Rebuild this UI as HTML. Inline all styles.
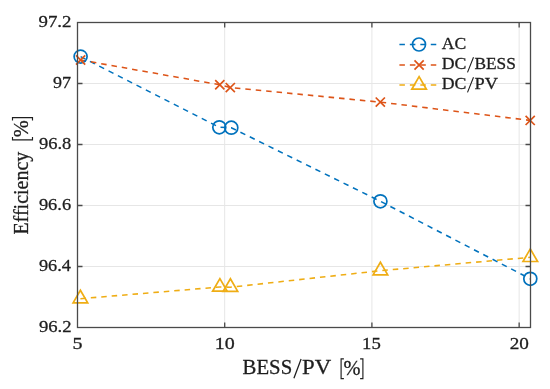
<!DOCTYPE html>
<html><head><meta charset="utf-8">
<style>
html,body{margin:0;padding:0;background:#fff;}
body{width:550px;height:389px;overflow:hidden;}
svg{display:block;will-change:transform;}
text{font-family:"Liberation Serif",serif;fill:#1e1e1e;stroke:#1e1e1e;stroke-width:0.3px;}
</style></head>
<body>
<svg width="550" height="389" viewBox="0 0 550 389">
<rect width="550" height="389" fill="#fff"/>
<!-- grid -->
<g stroke="#e6e6e6" stroke-width="1" fill="none">
<line x1="224.7" y1="22.5" x2="224.7" y2="327.5"/>
<line x1="371.9" y1="22.5" x2="371.9" y2="327.5"/>
<line x1="519.15" y1="22.5" x2="519.15" y2="327.5"/>
<line x1="77.5" y1="83.5" x2="530.5" y2="83.5"/>
<line x1="77.5" y1="144.5" x2="530.5" y2="144.5"/>
<line x1="77.5" y1="205.5" x2="530.5" y2="205.5"/>
<line x1="77.5" y1="266.5" x2="530.5" y2="266.5"/>
</g>
<!-- y tick labels -->
<g font-size="17.6">
<text x="38.5" y="27.1" textLength="33.0" lengthAdjust="spacingAndGlyphs">97.2</text>
<text x="53.0" y="88.1" textLength="18.0" lengthAdjust="spacingAndGlyphs">97</text>
<text x="38.9" y="149.1" textLength="32.4" lengthAdjust="spacingAndGlyphs">96.8</text>
<text x="38.9" y="210.1" textLength="32.25" lengthAdjust="spacingAndGlyphs">96.6</text>
<text x="38.9" y="271.0" textLength="32.0" lengthAdjust="spacingAndGlyphs">96.4</text>
<text x="38.9" y="332.0" textLength="32.7" lengthAdjust="spacingAndGlyphs">96.2</text>
<text x="72.5" y="349.4" textLength="10.0" lengthAdjust="spacingAndGlyphs">5</text>
<text x="214.8" y="349.4" textLength="20.0" lengthAdjust="spacingAndGlyphs">10</text>
<text x="362.0" y="349.4" textLength="18.75" lengthAdjust="spacingAndGlyphs">15</text>
<text x="509.7" y="349.4" textLength="19.2" lengthAdjust="spacingAndGlyphs">20</text>
</g>
<text y="374.1" x="242.6" font-size="21" textLength="49.6" lengthAdjust="spacingAndGlyphs">BESS</text>
<text y="374.1" x="302.0" font-size="21" textLength="29.1" lengthAdjust="spacingAndGlyphs">PV</text>
<text y="374.6" font-size="21.5" x="343.4" textLength="17" lengthAdjust="spacingAndGlyphs">%</text>
<path d="M343.9 358.9H341.1V378.6H343.9M360.1 358.9H362.9V378.6H360.1" stroke="#1e1e1e" stroke-width="1.15" fill="none"/>
<path d="M293.9 378.2L301.1 359" stroke="#1e1e1e" stroke-width="1.25" fill="none"/>
<g transform="translate(27.9,0) rotate(-90)">
<text x="-234.6" y="0" font-size="21" textLength="82.9" lengthAdjust="spacingAndGlyphs">Efficiency</text>
<text x="-137.2" y="0.5" font-size="21.5" textLength="17" lengthAdjust="spacingAndGlyphs">%</text>
</g>
<path d="M12.5 137.0V139.8H32.5V137.0M12.5 120.4V117.6H32.5V120.4" stroke="#1e1e1e" stroke-width="1.15" fill="none"/>

<!-- series -->
<defs>
<circle id="mo" r="6.5" fill="none" stroke="#0072BD" stroke-width="1.7"/>
<path id="mx" d="M-4.6,-4.6L4.6,4.6M4.6,-4.6L-4.6,4.6" fill="none" stroke="#DD5418" stroke-width="1.7"/>
<path id="mt" d="M0,-8.4L7.3,4.2L-7.3,4.2Z" fill="none" stroke="#EFAD14" stroke-width="1.7"/>
</defs>
<g fill="none" stroke-width="1.55" stroke-dasharray="5.5 4.96">
<polyline stroke="#EFAD14" points="80.4,298.7 219.9,287 230.4,287.2 380.4,270.7 530.3,257.3"/>
</g>
<g fill="none" stroke-width="1.55" stroke-dasharray="5.5 4.96">
<polyline stroke="#0072BD" points="80.6,56.6 219.3,127.3 231.3,127.7 380.4,201.3 530.3,278.8"/>
</g>
<g fill="none" stroke-width="1.55" stroke-dasharray="5.5 4.96">
<polyline stroke="#DD5418" points="80.6,60 219.8,84.8 230.3,87.6 380.3,102.1 530.2,120.4"/>
</g>
<use href="#mo" x="80.6" y="56.6"/>
<use href="#mo" x="219.3" y="127.3"/>
<use href="#mo" x="231.3" y="127.7"/>
<use href="#mo" x="380.4" y="201.3"/>
<use href="#mo" x="530.3" y="278.8"/>
<use href="#mx" x="80.6" y="60"/>
<use href="#mx" x="219.8" y="84.8"/>
<use href="#mx" x="230.3" y="87.6"/>
<use href="#mx" x="380.3" y="102.1"/>
<use href="#mx" x="530.2" y="120.4"/>
<use href="#mt" x="80.4" y="298.7"/>
<use href="#mt" x="219.9" y="287"/>
<use href="#mt" x="230.4" y="287.2"/>
<use href="#mt" x="380.4" y="270.7"/>
<use href="#mt" x="530.3" y="257.3"/>

<!-- axes box -->
<g stroke="#4a4a4a" stroke-width="1.3" fill="none">
<rect x="77.5" y="22.5" width="453" height="305"/>
<path d="M224.7 327.5V322.5M371.9 327.5V322.5M519.15 327.5V322.5M224.7 22.5V27.5M371.9 22.5V27.5M519.15 22.5V27.5"/>
<path d="M77.5 83.5H82.5M77.5 144.5H82.5M77.5 205.5H82.5M77.5 266.5H82.5M530.5 83.5H525.5M530.5 144.5H525.5M530.5 205.5H525.5M530.5 266.5H525.5"/>
</g>
<!-- legend -->
<g fill="none" stroke-width="1.55" stroke-dasharray="5.5 4.96">
<line x1="399.4" y1="44.5" x2="436.4" y2="44.5" stroke="#0072BD"/>
<line x1="399.4" y1="65.05" x2="436.4" y2="65.05" stroke="#DD5418"/>
<line x1="399.4" y1="85" x2="436.4" y2="85" stroke="#EFAD14"/>
</g>
<use href="#mo" x="419" y="44.5"/>
<use href="#mx" x="419.1" y="65.05"/>
<use href="#mt" x="419.1" y="85"/>
<g font-size="17" lengthAdjust="spacingAndGlyphs">
<text x="441.8" y="48.6" textLength="24.46" lengthAdjust="spacingAndGlyphs">AC</text>
<text x="441.7" y="69" textLength="24.67" lengthAdjust="spacingAndGlyphs">DC</text>
<text x="474.5" y="69" textLength="41.37" lengthAdjust="spacingAndGlyphs">BESS</text>
<text x="441.7" y="89" textLength="24.67" lengthAdjust="spacingAndGlyphs">DC</text>
<text x="474.5" y="89" textLength="23.42" lengthAdjust="spacingAndGlyphs">PV</text>
</g>
<path d="M467.5 72.4L473.5 57.2M467.5 92.4L473.5 77.2" stroke="#1e1e1e" stroke-width="1.1" fill="none"/>
</svg>
</body></html>
